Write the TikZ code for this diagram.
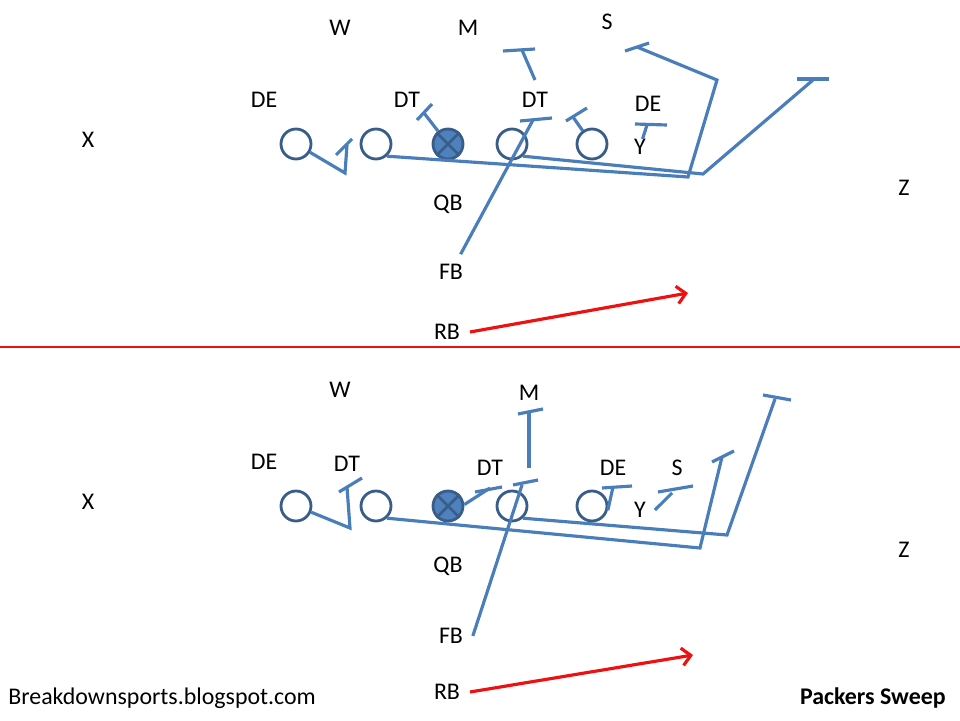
\documentclass[tikz,border=0pt]{standalone}
\usepackage{fontspec}
\setmainfont{Carlito}
\usetikzlibrary{arrows.meta}
\definecolor{route}{HTML}{4A7EBB}
\definecolor{olrim}{HTML}{385D8A}
\definecolor{olfill}{HTML}{4F81BD}
\definecolor{runred}{HTML}{EE1111}

\begin{document}
\begin{tikzpicture}[
    x=0.02cm, y=-0.02cm,
    every node/.style={font=\fontsize{13.6}{15}\selectfont},
    lbl/.style={inner sep=0pt, text=black},
    olman/.style={
        circle, draw=olrim, line width=1.6pt, fill=white,
        minimum size=0.6cm, inner sep=0pt
    },
    snapper/.style={olman, fill=olfill},
    blk/.style={route, line width=1.8pt},
    run/.style={-{Straight Barb[length=5pt, width=10pt]}, runred, line width=1.8pt},
]
\useasboundingbox (0,0) rectangle (960,720);

% ===== Top: the play =====
\node[lbl] (tX) at (88,140) {X};
\node[lbl] (tZ) at (904,188) {Z};
\node[lbl] (tW) at (340,28) {W};
\node[lbl] (tM) at (468,28) {M};
\node[lbl] (tS) at (607,22) {S};
\node[lbl] (tDEl) at (264,100) {DE};
\node[lbl] (tDTl) at (407,100) {DT};
\node[lbl] (tDTr) at (535,100) {DT};
\node[lbl] (tDEr) at (648,104) {DE};
\node[lbl] (tY) at (640,147) {Y};
\node[lbl] (tQB) at (448,204) {QB};
\node[lbl] (tFB) at (451,272) {FB};
\node[lbl] (tRB) at (447,332) {RB};

% offensive line
\node[olman] (tLT) at (296,144) {};
\node[olman] (tLG) at (376,144) {};
\node[snapper] (tC) at (448,144) {};
\node[olman] (tRG) at (512,144) {};
\node[olman] (tRT) at (592,144) {};
\draw[olrim, line width=1.6pt] (tC.45) -- (tC.225) (tC.135) -- (tC.315);

% route points
\coordinate (tLTa) at (345,173);
\coordinate (tLTb) at (347,145);
\coordinate (tLGa) at (688,177);
\coordinate (tLGb) at (717,80);
\coordinate (tLGc) at (637,47);
\coordinate (tCa) at (424,113);
\coordinate (tRGa) at (703,174);
\coordinate (tRGb) at (813,80);
\coordinate (tFBa) at (533,120);
\coordinate (tMa) at (535,80);
\coordinate (tMb) at (522,50);
\coordinate (tRTa) at (573,117);
\coordinate (tYa) at (647,125);
\coordinate (tRBa) at (688,293);

% blocks
\draw[blk] (tLT) -- (tLTa) -- (tLTb);
\draw[blk] (336,155) -- (352,139);
\draw[blk] (tLG.-48) -- (tLGa) -- (tLGb) -- (tLGc);
\draw[blk] (625,51) -- (649,43);
\draw[blk] (tC) -- (tCa);
\draw[blk] (417,120) -- (432,104);
\draw[blk] (tRG.-48) -- (tRGa) -- (tRGb);
\draw[blk] (797,79) -- (829,79);
\draw[blk, shorten <=6.3pt] (tFB) -- (tFBa);
\draw[blk] (520,121) -- (552,118);
\draw[blk] (tMa) -- (tMb);
\draw[blk] (503,51) -- (535,49);
\draw[blk] (tRT) -- (tRTa);
\draw[blk] (566,121) -- (587,108);
\draw[blk] (tY) -- (tYa);
\draw[blk] (635,124) -- (667,125);

% ball carrier
\draw[run] ([xshift=5.5pt]tRB.east) -- (tRBa);

% ===== Divider =====
\draw[runred, line width=1.7pt] (0,347) -- (960,347);

% ===== Bottom: adjusted blocks =====
\node[lbl] (bX) at (88,502) {X};
\node[lbl] (bZ) at (904,550) {Z};
\node[lbl] (bW) at (340,390) {W};
\node[lbl] (bM) at (529,393) {M};
\node[lbl] (bDEl) at (264,462) {DE};
\node[lbl] (bDTl) at (347,464) {DT};
\node[lbl] (bDTr) at (490,468) {DT};
\node[lbl] (bDEr) at (613,468) {DE};
\node[lbl] (bS) at (677,468) {S};
\node[lbl] (bY) at (640,510) {Y};
\node[lbl] (bQB) at (448,566) {QB};
\node[lbl] (bFB) at (451,636) {FB};
\node[lbl] (bRB) at (447,692) {RB};

% offensive line
\node[olman] (bLT) at (296,506) {};
\node[olman] (bLG) at (376,506) {};
\node[snapper] (bC) at (448,506) {};
\node[olman] (bRG) at (512,506) {};
\node[olman] (bRT) at (592,506) {};
\draw[olrim, line width=1.6pt] (bC.45) -- (bC.225) (bC.135) -- (bC.315);

% route points
\coordinate (bLTa) at (350,528);
\coordinate (bLTb) at (347,487);
\coordinate (bLGa) at (700,548);
\coordinate (bLGb) at (722,457);
\coordinate (bCa) at (490,488);
\coordinate (bRGa) at (727,535);
\coordinate (bRGb) at (775,399);
\coordinate (bMa) at (529,468);
\coordinate (bMb) at (529,413);
\coordinate (bFBa) at (522,485);
\coordinate (bRTa) at (613,487);
\coordinate (bYa) at (672,493);
\coordinate (bRBa) at (693,655);

% blocks
\draw[blk] (bLT) -- (bLTa) -- (bLTb);
\draw[blk] (339,492) -- (362,478);
\draw[blk] (bLG.-48) -- (bLGa) -- (bLGb);
\draw[blk] (712,462) -- (734,451);
\draw[blk] (bC.5) -- (bCa);
\draw[blk] (475,492) -- (502,487);
\draw[blk] (bRG.-48) -- (bRGa) -- (bRGb);
\draw[blk] (763,395) -- (791,400);
\draw[blk] (bMa) -- (bMb);
\draw[blk] (518,414) -- (543,409);
\draw[blk] ([xshift=5.4pt]bFB.east) -- (bFBa);
\draw[blk] (513,485) -- (538,480);
\draw[blk] (bRT.-15) -- (bRTa);
\draw[blk] (602,488) -- (632,486);
\draw[blk] ([xshift=5pt]bY.east) -- (bYa);
\draw[blk] (658,492) -- (693,486);

% ball carrier
\draw[run] ([xshift=5.5pt]bRB.east) -- (bRBa);

% ===== Footer =====
\node[lbl, anchor=west] (site) at (8,698) {Breakdownsports.blogspot.com};
\node[lbl, anchor=east, font=\fontsize{13.6}{15}\selectfont\bfseries] (title) at (946,698) {Packers Sweep};

\end{tikzpicture}
\end{document}
